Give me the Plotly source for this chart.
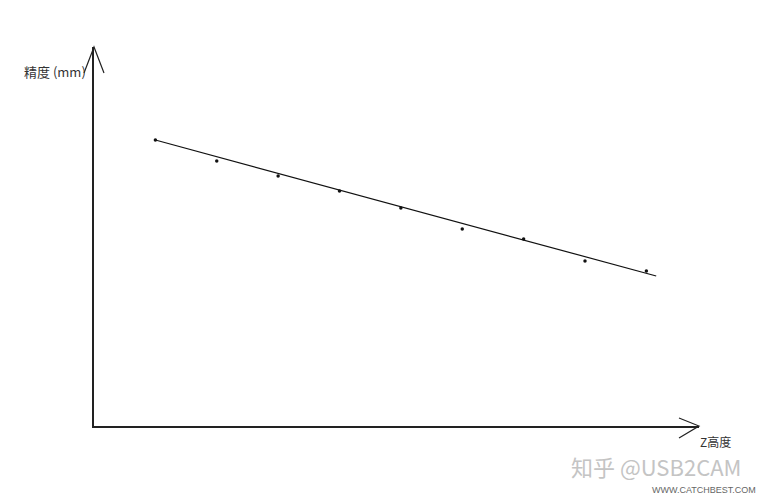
import plotly.graph_objects as go

# Data
z_height = [1, 2, 3, 4, 5, 6, 7, 8, 9]
precision = [0.286, 0.265, 0.250, 0.235, 0.218, 0.197, 0.187, 0.165, 0.155]
trend_x = [1, 9.16]
trend_y = [0.286, 0.150]

y_label = "精度 (mm)"
x_label = "Z高度"
watermark = "知乎 @USB2CAM"
site = "WWW.CATCHBEST.COM"

OFF = 8  # page body margin
W, H = 764 - OFF, 496 - OFF
L, R, T, B = 94 - OFF, 65, 47 - OFF, 70
PW, PH = W - L - R, H - T - B

fig = go.Figure()
fig.add_trace(go.Scatter(x=trend_x, y=trend_y, mode="lines",
                         line=dict(color="#111111", width=1.2), hoverinfo="skip"))
fig.add_trace(go.Scatter(x=z_height, y=precision, mode="markers",
                         marker=dict(color="#111111", size=3.5)))

ax = dict(showgrid=False, zeroline=False, showticklabels=False, ticks="",
          showline=True, linecolor="#222222", linewidth=1.5)
fig.update_xaxes(range=[0, PW / 61.375], **ax)
fig.update_yaxes(range=[0, PH / 1000.0], **ax)

def px(dx):
    return dx / PW

def py(dy):
    return dy / PH

def pagex(x):
    return px(x - OFF - L)

def pagey(y):
    return 1 - py(y - OFF - T)

shapes = [
    dict(type="path", xref="paper", yref="paper",
         path=f"M {px(-10)} {1 - py(26)} L 0 1 L {px(10)} {1 - py(26)}",
         line=dict(color="#222222", width=1.2)),
    dict(type="path", xref="paper", yref="paper",
         path=f"M {1 - px(20)} {py(8)} L 1 0 L {1 - px(20)} {py(-12)}",
         line=dict(color="#222222", width=1.2)),
]

annotations = [
    dict(text=y_label, xref="paper", yref="paper", x=pagex(22), y=pagey(71),
         xanchor="left", yanchor="middle", showarrow=False,
         font=dict(family="Noto Sans CJK SC", size=13, color="#333333")),
    dict(text=x_label, xref="paper", yref="paper", x=pagex(699), y=pagey(441),
         xanchor="left", yanchor="middle", showarrow=False, borderpad=0,
         font=dict(family="Noto Sans CJK SC", size=12, color="#333333")),
    dict(text=watermark, xref="paper", yref="paper", x=pagex(570), y=pagey(466),
         xanchor="left", yanchor="middle", showarrow=False, borderpad=0,
         font=dict(family="Noto Sans CJK SC", size=22, color="#c4c4c4")),
    dict(text=site, xref="paper", yref="paper", x=pagex(758), y=pagey(490),
         xanchor="right", yanchor="middle", showarrow=False,
         font=dict(family="Liberation Sans", size=9, color="#666666")),
]

fig.update_layout(width=W, height=H, margin=dict(l=L, r=R, t=T, b=B),
                  paper_bgcolor="white", plot_bgcolor="white", showlegend=False,
                  shapes=shapes, annotations=annotations)

fig.write_html("out.html")
